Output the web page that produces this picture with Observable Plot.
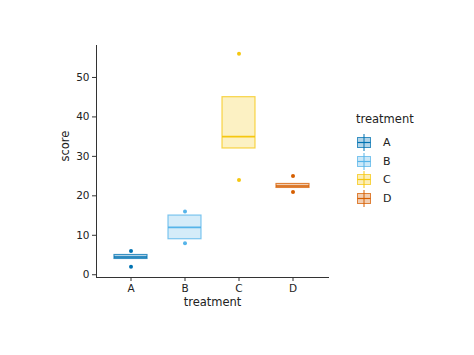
<!DOCTYPE html>
<html>
<head>
<meta charset="utf-8">
<script src="https://cdn.jsdelivr.net/npm/d3@7"></script>
<script src="https://cdn.jsdelivr.net/npm/@observablehq/plot@0.6"></script>
<style>
  body { margin: 0; background: #fff; font-family: "DejaVu Sans", sans-serif; }
  #wrap { position: relative; width: 474px; height: 355px; }
  #legend { position: absolute; left: 356px; top: 112px; font-size: 11.5px; color: #222; }
  #legend .title { margin-bottom: 7px; }
  #legend .item { display: flex; align-items: center; height: 18.8px; }
  #legend .item span { margin-left: 11px; font-size: 11px; }
</style>
</head>
<body>
<div id="wrap"></div>
<script>
const treatments = ["A", "B", "C", "D"];
const q1 = [4, 9, 32, 22];
const median = [4.5, 12, 35, 22.5];
const q3 = [5, 15, 45, 23];
const outlierTreatment = ["A", "A", "B", "B", "C", "C", "D", "D"];
const outlierScore = [6, 2, 16, 8, 56, 24, 25, 21];
const colors = ["#0072B2", "#56B4E9", "#F5C710", "#D55E00"];
const yTicks = [0, 10, 20, 30, 40, 50];

const boxes = treatments.map((t, i) => ({treatment: t, q1: q1[i], median: median[i], q3: q3[i]}));
const points = outlierTreatment.map((t, i) => ({treatment: t, score: outlierScore[i]}));

const plot = Plot.plot({
  width: 474,
  height: 355,
  marginLeft: 96,
  marginRight: 146,
  marginTop: 45,
  marginBottom: 78,
  style: {fontFamily: "DejaVu Sans, sans-serif", fontSize: "10.5px", color: "#222"},
  x: {type: "band", domain: treatments, paddingInner: 0.38, paddingOuter: 0.3, label: null},
  y: {domain: [-0.7, 58.1], label: null},
  color: {domain: treatments, range: colors},
  marks: [
    Plot.barY(boxes, {x: "treatment", y1: "q1", y2: "q3", fill: "treatment", fillOpacity: 0.25, stroke: "treatment", strokeOpacity: 0.75, strokeWidth: 1.2}),
    Plot.tickY(boxes, {x: "treatment", y: "median", stroke: "treatment", strokeWidth: 1.6}),
    Plot.dot(points, {x: "treatment", y: "score", fill: "treatment", r: 2}),
    Plot.axisY({ticks: yTicks, tickSize: 4, tickPadding: 3, stroke: "#333", fontSize: "10.5px", label: null}),
    Plot.axisX({tickSize: 4, tickPadding: 3, stroke: "#333", fontSize: "10.5px", label: null}),
    Plot.frame({anchor: "left", stroke: "#333"}),
    Plot.frame({anchor: "bottom", stroke: "#333"}),
    Plot.text(["treatment"], {frameAnchor: "bottom", dy: 28, fontSize: 11.5, fill: "#222"}),
    Plot.text(["score"], {frameAnchor: "left", dx: -31, rotate: -90, fontSize: 11.5, fill: "#222"})
  ]
});
document.getElementById("wrap").appendChild(plot);

// legend
const legend = document.createElement("div");
legend.id = "legend";
legend.innerHTML = `<div class="title">treatment</div>` + treatments.map((t, i) => `
  <div class="item">
    <svg width="16" height="17" viewBox="0 0 16 17">
      <line x1="8" x2="8" y1="0" y2="17" stroke="${colors[i]}" stroke-width="1"/>
      <rect x="1.5" y="3.5" width="13" height="10" fill="${colors[i]}" fill-opacity="0.3" stroke="${colors[i]}" stroke-opacity="0.75"/>
      <line x1="1.5" x2="14.5" y1="8.5" y2="8.5" stroke="${colors[i]}" stroke-width="1.2"/>
    </svg>
    <span>${t}</span>
  </div>`).join("");
document.getElementById("wrap").appendChild(legend);
</script>
</body>
</html>
